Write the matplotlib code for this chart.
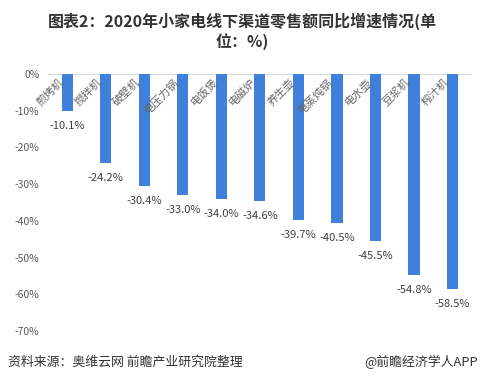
import matplotlib
matplotlib.use("Agg")
import matplotlib.pyplot as plt

plt.rcParams['font.family'] = ['Noto Sans CJK SC', 'DejaVu Sans']

categories = ["煎烤机", "搅拌机", "破壁机", "电压力锅", "电饭煲", "电磁炉",
              "养生壶", "电蒸炖锅", "电水壶", "豆浆机", "榨汁机"]
values = [-10.1, -24.2, -30.4, -33.0, -34.0, -34.6, -39.7, -40.5, -45.5, -54.8, -58.5]
yticks = [0, -10, -20, -30, -40, -50, -60, -70]

fig = plt.figure(figsize=(4.84, 3.89), dpi=100)
ax = fig.add_axes([0.099, 0.149, 0.876, 0.661])

x = list(range(len(categories)))
ax.bar(x, values, width=0.29, color='#3F80DC', zorder=2)
ax.set_xlim(-0.5, len(categories) - 0.5)
ax.set_ylim(-70, 0)
ax.set_yticks(yticks)
ax.set_yticklabels([f"{t}%" for t in yticks], color='#595959', fontsize=7.5)
ax.tick_params(axis='y', length=0, pad=6)
ax.set_xticks([])
for s in ['top', 'right', 'bottom', 'left']:
    ax.spines[s].set_visible(False)
ax.axhline(0, color='#D9D9D9', lw=0.8, zorder=1)
ax.patch.set_alpha(0)

for i, (c, v) in enumerate(zip(categories, values)):
    ax.annotate(c, xy=(i - 0.05, 0), xytext=(0, -2), textcoords='offset points',
                ha='right', va='top', rotation=45, fontsize=8, color='#666666')
    ax.annotate(f"{v:.1f}%", xy=(i, v), xytext=(0, -11), textcoords='offset points',
                ha='center', va='center', fontsize=8, color='#404040')

fig.text(0.5, 0.945, "图表2：2020年小家电线下渠道零售额同比增速情况(单", ha='center', va='center',
         fontsize=11.5, fontweight='bold', color='#333333')
fig.text(0.5, 0.893, "位：%)", ha='center', va='center',
         fontsize=11.5, fontweight='bold', color='#333333')

fig.text(0.016, 0.07, "资料来源：奥维云网 前瞻产业研究院整理", ha='left', va='center',
         fontsize=9.3, color='#333333')
fig.text(0.988, 0.07, "@前瞻经济学人APP", ha='right', va='center',
         fontsize=9.3, color='#333333')

fig.savefig("out.png", dpi=100)
